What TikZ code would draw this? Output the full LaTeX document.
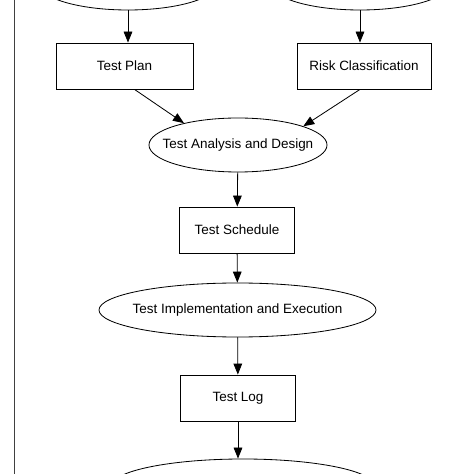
\documentclass[tikz,border=0pt]{standalone}
\usepackage{fontspec}
\setmainfont{Liberation Sans}
\usetikzlibrary{shapes.geometric,arrows.meta}
\begin{document}
\begin{tikzpicture}[x=0.03cm, y=0.03cm, >={Triangle[length=3.3mm,width=2.6mm]}, line width=0.7pt, font=\fontsize{11.5}{13}\selectfont]
    \tikzstyle{process}=[draw,shape=rectangle,minimum height=1.38cm,inner sep=0pt]
    \tikzstyle{phase}=[draw,shape=ellipse,minimum height=1.62cm,inner sep=0pt]
    \useasboundingbox (0,0) rectangle (474,474);

    % frame line
    \draw [black!75] (14,474) -- (14,0);

    % draw phases
    \node [phase, minimum width=5.4cm] (top-left) at (128,491) {};
    \node [phase, minimum width=5.4cm] (top-right) at (360,491) {};
    \node [phase, minimum width=5.34cm, label=center:Test Analysis and Design] (analysis) at (238,329) {};
    \node [phase, minimum width=8.31cm, label=center:Test Implementation and Execution] (impl) at (237.5,164) {};
    \node [phase, minimum width=7.9cm] (bottom) at (243,-12) {};

    % draw documents
    \node [process, minimum width=4.11cm] (plan) at (124.5,408) {Test Plan};
    \node [process, minimum width=4.02cm] (risk) at (364,408) {Risk Classification};
    \node [process, minimum width=3.45cm] (schedule) at (237,244) {Test Schedule};
    \node [process, minimum width=3.45cm] (log) at (238,76) {Test Log};

    % draw lines
    \draw [->] (top-left.south) -- (top-left.south |- plan.north);
    \draw [->] (top-right.south) -- (top-right.south |- risk.north);
    \draw [->] ([xshift=0.3cm]plan.south) -- (analysis.158);
    \draw [->] ([xshift=-0.12cm]risk.south) -- (analysis.16);

    \foreach \a/\b in {analysis/schedule, schedule/impl, impl/log}
    \draw [->] (\a) -- (\b);
    \draw [->] (log.south) -- (log.south |- bottom.north);
  \end{tikzpicture}
\end{document}
